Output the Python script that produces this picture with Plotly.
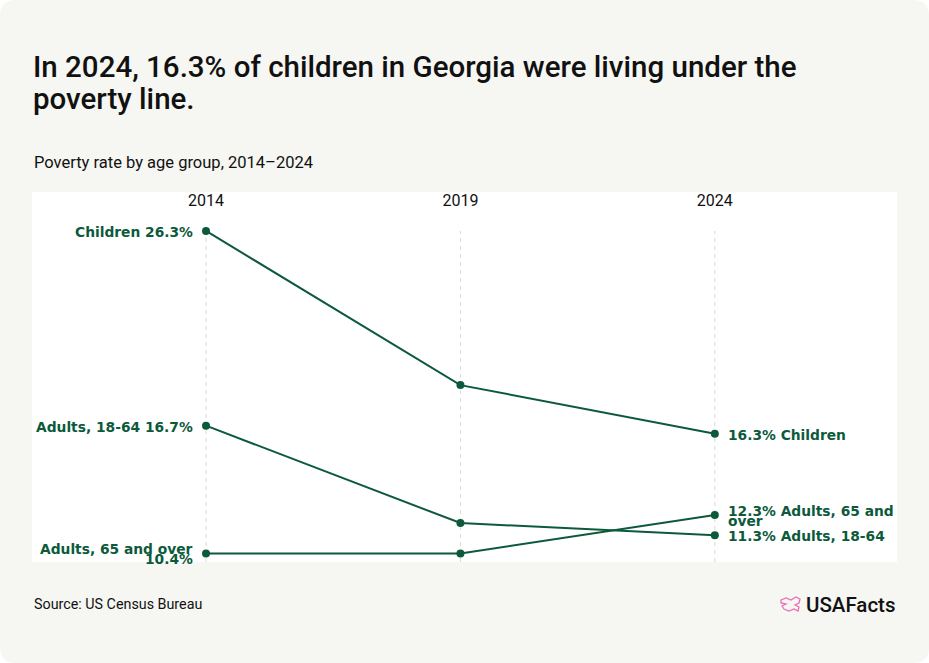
import textwrap
import plotly.graph_objects as go

# ---------------- data ----------------
years = [2014, 2019, 2024]
year_labels = ["2014", "2019", "2024"]
series_names = ["Children", "Adults, 18-64", "Adults, 65 and over"]
children = [26.3, 18.7, 16.3]
adults_18_64 = [16.7, 11.9, 11.3]
adults_65_over = [10.4, 10.4, 12.3]
series_values = [children, adults_18_64, adults_65_over]

title_text = "In 2024, 16.3% of children in Georgia were living under the<br>poverty line."
subtitle_text = "Poverty rate by age group, 2014–2024"
source_text = "Source: US Census Bureau"
brand_text = "USAFacts"

# ---------------- style ----------------
GREEN = "#0c5a3b"
CARD = "#f6f6f2"
GRID = "#d9d9d9"
LABEL_FONT = dict(family="DejaVu Sans", size=13.8, color=GREEN, weight=700)
TEXT_FONT = "Roboto"

W, H = 929, 663
L, R, T, B = 32, 32, 192, 101
PW, PH = W - L - R, H - T - B


def px(x):
    return (x - L) / PW


def py(y):
    return (H - B - y) / PH


fig = go.Figure()

for name, vals in zip(series_names, series_values):
    fig.add_trace(go.Scatter(
        x=years, y=vals, mode="lines+markers", name=name,
        line=dict(color=GREEN, width=2),
        marker=dict(color=GREEN, size=8),
        showlegend=False, hoverinfo="skip",
    ))

annotations = []
LINE_H = 10
# left labels (first year)
for name, vals in zip(series_names, series_values):
    lines = textwrap.wrap(f"{name} {vals[0]:.1f}%", width=20)
    n = len(lines)
    for i, ln in enumerate(lines):
        annotations.append(dict(
            x=years[0], y=vals[0], xref="x", yref="y", text=ln, showarrow=False,
            xanchor="right", yanchor="middle", xshift=-11,
            yshift=-(i - (n - 1) / 2) * LINE_H - 1, font=LABEL_FONT,
        ))
# right labels (last year)
for name, vals in zip(series_names, series_values):
    lines = textwrap.wrap(f"{vals[-1]:.1f}% {name}", width=20)
    n = len(lines)
    for i, ln in enumerate(lines):
        annotations.append(dict(
            x=years[-1], y=vals[-1], xref="x", yref="y", text=ln, showarrow=False,
            xanchor="left", yanchor="middle", xshift=11,
            yshift=-(i - (n - 1) / 2) * LINE_H - 1, font=LABEL_FONT,
        ))

# title (two lines with tight leading)
for i, ln in enumerate(title_text.split("<br>")):
    annotations.append(dict(
        x=px(31), y=py(67 + 32 * i), xref="paper", yref="paper", text=ln,
        showarrow=False, xanchor="left", yanchor="middle", align="left",
        font=dict(family=TEXT_FONT, size=29.5, color="#111111", weight=500)))

annotations += [
    dict(x=px(32), y=py(163), xref="paper", yref="paper", text=subtitle_text,
         showarrow=False, xanchor="left", yanchor="middle",
         font=dict(family=TEXT_FONT, size=16.5, color="#111111")),
    dict(x=px(32), y=py(604), xref="paper", yref="paper", text=source_text,
         showarrow=False, xanchor="left", yanchor="middle",
         font=dict(family=TEXT_FONT, size=14.3, color="#111111")),
    dict(x=px(898), y=py(605), xref="paper", yref="paper", text=brand_text,
         showarrow=False, xanchor="right", yanchor="middle",
         font=dict(family=TEXT_FONT, size=20.5, color="#111111", weight=500)),
]

vmax = max(max(v) for v in series_values)
y_range = [9.98, 28.22]

shapes = []
r = 16


def pt(x, y):
    return f"{px(x):.5f},{py(y):.5f}"


card_path = (f"M{pt(r,0)} L{pt(W-r,0)} Q{pt(W,0)} {pt(W,r)} L{pt(W,H-r)} "
             f"Q{pt(W,H)} {pt(W-r,H)} L{pt(r,H)} Q{pt(0,H)} {pt(0,H-r)} "
             f"L{pt(0,r)} Q{pt(0,0)} {pt(r,0)} Z")
shapes.append(dict(type="path", xref="paper", yref="paper", path=card_path,
                   fillcolor=CARD, line=dict(width=0), layer="below"))
shapes.append(dict(type="rect", xref="paper", yref="paper", x0=0, x1=1, y0=0, y1=1,
                   fillcolor="white", line=dict(width=0), layer="below"))
for yr in years:
    shapes.append(dict(type="line", xref="x", yref="y", x0=yr, x1=yr,
                       y0=y_range[0], y1=vmax, layer="below",
                       line=dict(color=GRID, width=1, dash="4px,4px")))
icon = [(781, 600), (786, 598), (791, 600), (796, 597), (800, 599), (799, 603),
        (795, 605), (799, 607), (798, 611), (794, 609), (789, 611), (784, 609),
        (782, 606), (786, 604), (781, 603)]
icon_path = "M" + " L".join(pt(x, y) for x, y in icon) + " Z"
shapes.append(dict(type="path", xref="paper", yref="paper", path=icon_path,
                   line=dict(color="#ec6fb3", width=1.3), fillcolor="rgba(0,0,0,0)"))

fig.update_layout(
    width=W, height=H,
    margin=dict(l=L, r=R, t=T, b=B),
    paper_bgcolor="white", plot_bgcolor="rgba(0,0,0,0)",
    xaxis=dict(range=[2010.58, 2027.58], tickvals=years, ticktext=year_labels,
               side="top", ticklabelposition="inside", showgrid=False,
               zeroline=False, showline=False, ticks="",
               tickfont=dict(family=TEXT_FONT, size=16, color="#111111")),
    yaxis=dict(range=y_range, visible=False),
    annotations=annotations,
    shapes=shapes,
)

fig.write_html("out.html")
